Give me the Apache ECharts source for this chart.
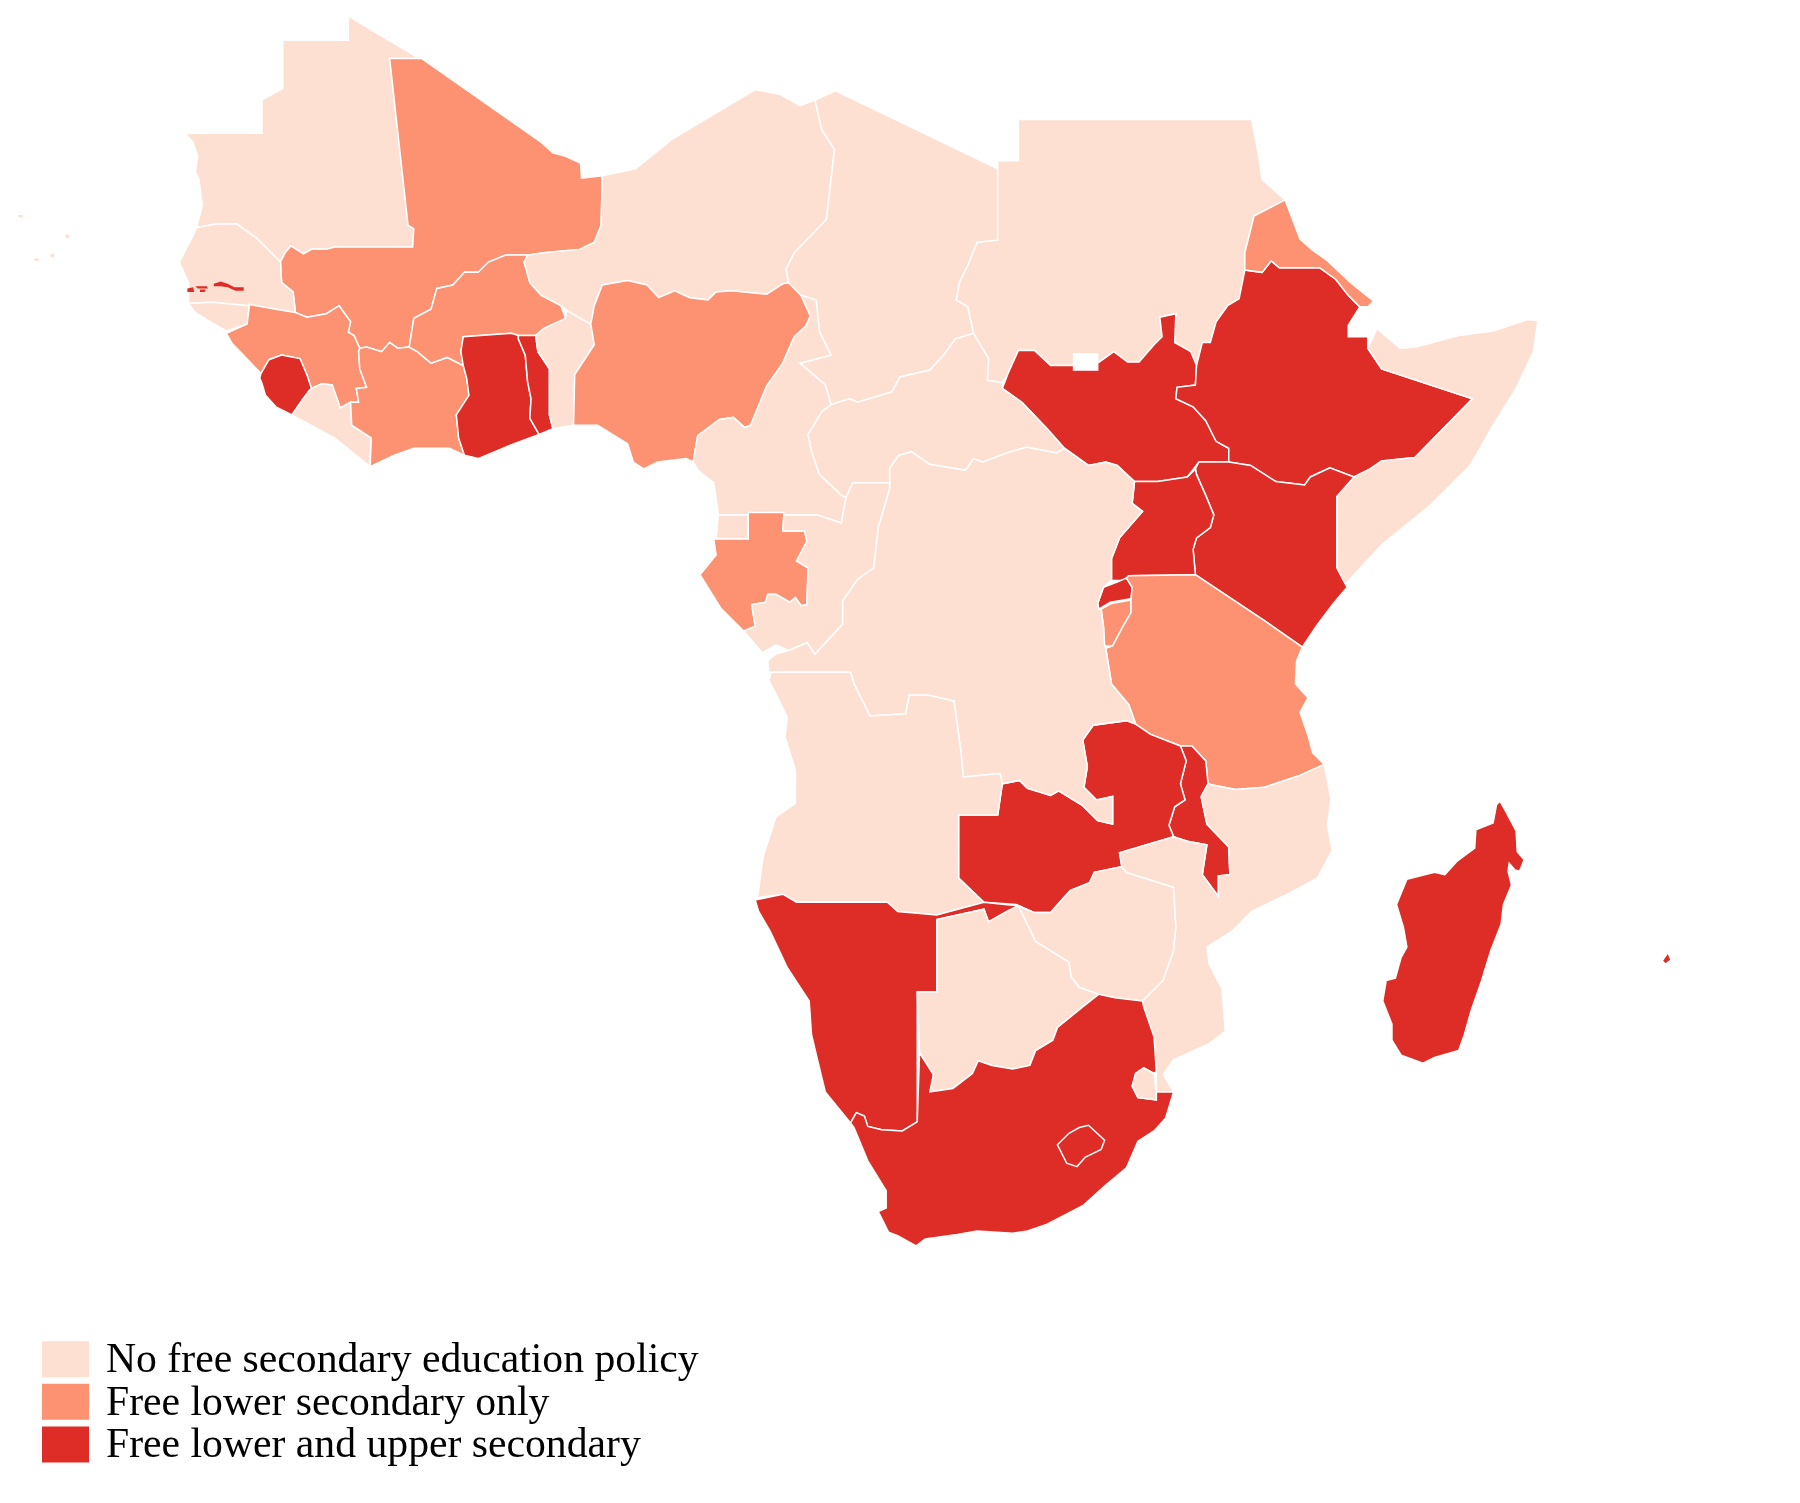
<!DOCTYPE html>
<html lang="en">
<head>
    <meta charset="UTF-8">
    <title>Free secondary education policy in Africa</title>
    <script src="https://cdn.jsdelivr.net/npm/echarts@6/dist/echarts.min.js"></script>
    <style>html,body{margin:0;padding:0;background:#fff}</style>
</head>
<body>
    <div id="main" style="width:1800px;height:1503px;"></div>
    <script type="text/javascript">
        // legend classes
        var policyLabels = ['No free secondary education policy', 'Free lower secondary only', 'Free lower and upper secondary'];
        var policyColors = ['#fee0d2', '#fc9272', '#de2d26'];

        // policy class per country, 0 / 1 / 2
        var noPolicy = ['Mauritania', 'Senegal', 'Guinea-Bissau', 'Liberia', 'Benin', 'Niger', 'Chad', 'Sudan', 'Somalia', 'DR Congo', 'CAR', 'Cameroon', 'Eq. Guinea', 'Congo', 'Angola', 'Botswana', 'Zimbabwe', 'Mozambique', 'Eswatini', 'Cape Verde'];
        var lowerOnly = ['Mali', 'Guinea', "Cote d'Ivoire", 'Burkina Faso', 'Nigeria', 'Eritrea', 'Burundi', 'Tanzania', 'Gabon'];
        var lowerUpper = ['Gambia', 'Sierra Leone', 'Ghana', 'Togo', 'South Sudan', 'Ethiopia', 'Kenya', 'Uganda', 'Rwanda', 'Malawi', 'Zambia', 'Namibia', 'South Africa', 'Lesotho', 'Madagascar', 'Mauritius'];

        // country outlines
        var mauritania = [[303,14],[365,51],[339,51],[355,196],[360,199],[359,215],[291,215],[284,217],[271,217],[264,221],[253,214],[248,220],[244,228],[236,220],[223,207],[206,195],[188,195],[171,198],[176,179],[173,156],[170,149],[172,136],[168,124],[161,116],[228,116],[228,87],[246,77],[246,35],[303,35]];
        var mali = [[339,51],[367,51],[471,124],[481,133],[492,136],[505,142],[506,155],[524,153],[523,196],[517,211],[504,217],[473,220],[459,222],[440,222],[425,228],[416,237],[404,237],[394,248],[380,251],[375,269],[360,277],[356,302],[346,303],[339,298],[332,306],[319,302],[313,303],[308,292],[303,289],[305,280],[295,266],[284,273],[267,276],[257,272],[255,254],[245,246],[244,228],[248,220],[253,214],[264,221],[271,217],[284,217],[291,215],[359,215],[360,199],[355,196]];
        var senegal = [[171,198],[188,195],[206,195],[223,207],[236,220],[244,228],[245,246],[255,254],[257,272],[240,269],[216,266],[185,263],[164,264],[164,246],[156,228],[168,205]];
        var gambia = [[[163,251],[168,250],[169,254],[163,254]],[[170,249],[180,249],[181,251],[172,251]],[[174,252],[179,252],[178,254],[174,254]],[[186,247],[192,245],[198,247],[204,250],[212,250],[212,253],[205,253],[198,250],[192,249],[186,249]]];
        var capeVerde = [[[16,187],[20,187],[20,189],[16,189]],[[57,204],[60,204],[60,207],[57,207]],[[30,225],[34,225],[34,227],[30,227]],[[44,221],[47,221],[47,224],[44,224]]];
        var guineaBissau = [[164,264],[185,263],[216,266],[217,265],[215,282],[197,288],[188,283],[170,272]];
        var guinea = [[217,265],[240,269],[257,272],[267,276],[284,273],[295,266],[305,280],[303,289],[308,292],[313,303],[312,306],[313,321],[319,337],[310,338],[312,350],[305,350],[296,355],[289,335],[280,334],[271,338],[267,326],[261,312],[245,309],[234,313],[227,325],[209,306],[202,299],[197,290],[215,282]];
        var sierraLeone = [[227,325],[234,313],[245,309],[261,312],[267,326],[271,338],[269,340],[263,348],[254,361],[240,354],[231,344],[228,334],[226,329]];
        var liberia = [[254,361],[263,348],[269,340],[271,338],[280,334],[289,335],[296,355],[305,350],[306,370],[323,381],[322,406],[291,381]];
        var coteDivoire = [[313,303],[319,302],[332,306],[339,298],[346,303],[356,302],[363,306],[375,316],[389,311],[403,318],[406,329],[408,344],[397,361],[399,381],[404,396],[391,390],[360,390],[343,396],[322,406],[323,381],[306,370],[305,350],[312,350],[310,338],[319,337],[313,321],[312,306]];
        var burkina = [[356,302],[360,277],[375,269],[380,251],[394,248],[404,237],[416,237],[425,228],[440,222],[459,222],[456,228],[461,246],[471,257],[488,266],[492,277],[473,286],[466,292],[451,292],[445,290],[403,293],[401,306],[403,318],[389,311],[375,316],[363,306]];
        var ghana = [[403,293],[445,290],[451,292],[451,295],[457,309],[459,332],[462,347],[461,364],[469,378],[445,387],[416,399],[404,396],[399,381],[397,361],[408,344],[406,329],[403,318],[401,306]];
        var togo = [[451,292],[466,292],[468,306],[478,321],[478,361],[481,373],[469,378],[461,364],[462,347],[459,332],[457,309],[451,295]];
        var benin = [[466,292],[473,286],[492,277],[493,270],[514,282],[517,300],[500,326],[499,370],[481,373],[478,361],[478,321],[468,306]];
        var niger = [[524,153],[553,147],[585,121],[657,78],[678,82],[696,92],[709,87],[715,113],[726,130],[719,191],[691,220],[684,234],[686,246],[681,247],[667,256],[636,253],[623,254],[616,261],[600,259],[587,253],[573,259],[563,248],[546,244],[524,248],[517,266],[514,282],[493,270],[488,266],[471,257],[461,246],[456,228],[459,222],[473,220],[504,217],[517,211],[523,196]];
        var nigeria = [[524,248],[546,244],[563,248],[573,259],[587,253],[600,259],[616,261],[623,254],[636,253],[667,256],[681,247],[686,246],[697,257],[705,275],[701,284],[691,293],[681,316],[667,336],[653,370],[648,372],[638,363],[626,365],[607,379],[603,402],[597,399],[572,402],[560,408],[551,402],[546,386],[520,370],[499,370],[500,326],[517,300],[514,282],[517,266]];
        var chad = [[709,87],[727,79],[868,147],[868,209],[850,211],[842,231],[835,245],[832,261],[842,267],[847,290],[831,295],[821,309],[809,322],[783,328],[776,341],[746,350],[739,347],[723,352],[718,335],[696,316],[723,309],[713,289],[710,261],[697,257],[686,246],[684,234],[691,220],[719,191],[726,130],[715,113]];
        var sudan = [[868,147],[868,140],[886,140],[886,104],[1089,104],[1095,136],[1098,156],[1118,174],[1091,188],[1083,220],[1083,235],[1078,260],[1068,266],[1058,280],[1053,298],[1046,298],[1041,318],[1036,306],[1022,298],[1023,273],[1009,276],[1011,293],[1004,300],[991,315],[981,315],[969,306],[955,316],[955,308],[934,308],[934,318],[914,318],[900,305],[886,305],[877,325],[872,333],[859,331],[860,312],[847,290],[842,267],[832,261],[835,245],[842,231],[850,211],[868,209]];
        var southSudan = [[872,338],[877,325],[886,305],[900,305],[914,318],[934,318],[934,322],[955,322],[955,316],[969,306],[981,315],[991,315],[1004,300],[1011,293],[1009,276],[1023,273],[1022,298],[1036,306],[1041,318],[1040,335],[1024,337],[1023,347],[1038,354],[1049,366],[1058,384],[1069,390],[1069,402],[1043,402],[1033,415],[1007,419],[987,419],[972,405],[962,402],[947,405],[926,390],[911,373],[889,350]];
        var ethiopia = [[1083,235],[1098,237],[1106,227],[1113,233],[1148,233],[1162,243],[1173,257],[1183,267],[1173,283],[1173,293],[1190,293],[1190,303],[1202,321],[1281,347],[1231,398],[1202,401],[1192,408],[1178,415],[1157,407],[1140,415],[1135,422],[1110,419],[1088,405],[1069,402],[1069,390],[1058,384],[1049,366],[1038,354],[1023,347],[1024,337],[1040,335],[1041,318],[1046,298],[1053,298],[1058,280],[1068,266],[1078,260]];
        var eritrea = [[1118,174],[1131,208],[1141,217],[1155,227],[1175,246],[1195,262],[1190,267],[1183,267],[1173,257],[1162,243],[1148,233],[1113,233],[1106,227],[1098,237],[1083,235],[1083,220],[1091,188]];
        var somalia = [[1198,286],[1218,303],[1232,302],[1269,292],[1299,288],[1329,278],[1338,279],[1334,306],[1319,338],[1299,370],[1279,405],[1245,439],[1202,474],[1168,511],[1163,494],[1163,432],[1178,415],[1192,408],[1202,401],[1231,398],[1281,347],[1202,321],[1190,303]];
        var kenya = [[1043,402],[1069,402],[1088,405],[1110,419],[1135,422],[1140,415],[1157,407],[1178,415],[1163,432],[1163,494],[1172,511],[1160,525],[1145,545],[1133,563],[1100,540],[1040,500],[1038,478],[1041,468],[1053,459],[1056,448],[1049,431],[1041,413],[1040,408]];
        var uganda = [[987,419],[1007,419],[1033,415],[1040,408],[1041,413],[1049,431],[1056,448],[1053,459],[1041,468],[1038,478],[1040,500],[982,501],[978,505],[967,505],[967,486],[974,468],[994,445],[985,438]];
        var rwanda = [[980,503],[985,511],[984,521],[966,524],[956,530],[955,525],[960,511],[973,506]];
        var burundi = [[958,530],[967,525],[984,522],[984,533],[977,545],[968,562],[961,562],[960,545]];
        var tanzania = [[982,501],[1040,500],[1100,540],[1133,563],[1128,575],[1127,595],[1138,607],[1131,620],[1138,640],[1142,655],[1152,665],[1130,675],[1100,685],[1075,687],[1055,683],[1051,682],[1049,662],[1037,649],[1027,649],[1001,639],[988,630],[982,613],[967,595],[962,564],[968,562],[977,545],[984,533],[984,522],[985,511],[980,503]];
        var malawi = [[1027,649],[1037,649],[1049,662],[1051,682],[1045,693],[1050,717],[1069,737],[1070,761],[1060,762],[1060,780],[1046,761],[1050,735],[1033,732],[1021,728],[1017,718],[1022,702],[1031,696],[1027,682],[1032,662]];
        var zambia = [[988,630],[980,627],[951,631],[942,644],[946,667],[943,685],[954,696],[968,693],[968,717],[955,714],[942,701],[921,688],[914,692],[894,686],[887,679],[872,682],[868,709],[834,709],[834,764],[856,785],[884,787],[900,794],[914,794],[931,775],[948,768],[952,759],[976,754],[974,742],[1021,728],[1017,718],[1022,702],[1031,696],[1027,682],[1032,662],[1027,649],[1001,639]];
        var drCongo = [[671,585],[740,585],[743,595],[757,623],[788,621],[791,605],[808,605],[830,610],[836,654],[838,676],[870,673],[872,682],[887,679],[894,686],[914,692],[921,688],[942,701],[955,714],[968,717],[968,693],[954,696],[943,685],[946,667],[942,644],[951,631],[980,627],[988,630],[982,613],[967,595],[962,564],[961,562],[960,545],[958,530],[956,530],[955,525],[960,511],[967,505],[967,486],[974,468],[994,445],[985,438],[987,419],[972,405],[962,402],[947,405],[926,390],[919,394],[893,389],[876,394],[855,402],[847,399],[840,409],[809,404],[793,393],[782,396],[774,407],[774,425],[764,459],[760,494],[746,504],[733,523],[733,543],[709,569],[702,559],[686,566],[675,569],[668,575],[669,585]];
        var car = [[723,352],[739,347],[746,350],[776,341],[783,328],[809,322],[821,309],[831,295],[847,290],[860,312],[859,331],[872,333],[872,338],[889,350],[911,373],[926,390],[919,394],[893,389],[876,394],[855,402],[847,399],[840,409],[809,404],[793,393],[782,396],[774,407],[774,420],[756,420],[742,420],[736,433],[732,431],[713,413],[706,393],[703,378],[715,358]];
        var cameroon = [[723,352],[715,358],[703,378],[706,393],[713,413],[732,431],[736,433],[732,455],[711,448],[651,448],[625,448],[621,420],[608,410],[603,402],[607,379],[626,365],[638,363],[648,372],[653,370],[667,336],[681,316],[691,293],[701,284],[705,275],[697,257],[710,261],[713,289],[723,309],[696,316],[718,335]];
        var eqGuinea = [[625,448],[651,448],[651,469],[623,469]];
        var gabon = [[651,446],[682,446],[681,462],[700,462],[702,471],[693,488],[703,494],[702,526],[697,527],[692,520],[687,524],[675,517],[668,517],[666,524],[654,526],[657,545],[647,549],[627,529],[609,500],[623,483],[621,469],[651,469]];
        var congo = [[742,420],[774,420],[774,425],[764,459],[760,494],[746,504],[733,523],[733,543],[709,569],[702,559],[686,566],[675,561],[663,568],[647,549],[657,545],[654,526],[666,524],[668,517],[675,517],[687,524],[692,520],[697,527],[702,526],[703,494],[693,488],[702,471],[700,462],[681,462],[682,448],[711,448],[732,455],[736,433]];
        var angola = [[669,592],[685,624],[683,641],[692,670],[692,699],[675,711],[664,745],[659,781],[681,778],[693,785],[772,785],[781,793],[815,796],[856,785],[834,764],[834,709],[868,709],[872,682],[870,673],[838,676],[836,654],[830,610],[808,605],[791,605],[788,621],[757,623],[743,595],[740,585],[671,585]];
        var namibia = [[657,783],[681,778],[693,785],[772,785],[781,793],[815,796],[856,785],[874,787],[886,788],[876,793],[860,802],[856,791],[815,800],[815,863],[798,863],[798,976],[785,984],[767,983],[755,980],[752,971],[745,968],[740,977],[718,950],[711,921],[706,900],[704,871],[685,842],[670,810],[660,793]];
        var botswana = [[815,800],[856,791],[860,802],[876,793],[886,788],[901,819],[922,832],[930,837],[932,850],[939,859],[956,865],[942,876],[920,894],[916,905],[901,914],[896,927],[881,930],[863,927],[851,923],[846,934],[829,947],[809,950],[812,935],[800,916],[798,863],[815,863]];
        var zimbabwe = [[886,788],[900,794],[914,794],[931,775],[948,768],[952,759],[976,754],[980,759],[1021,772],[1023,807],[1021,827],[1012,853],[994,871],[970,868],[956,865],[939,859],[932,850],[930,837],[922,832],[901,819]];
        var mozambique = [[1152,665],[1130,675],[1100,685],[1075,687],[1055,683],[1051,682],[1045,693],[1050,717],[1069,737],[1070,761],[1060,762],[1060,780],[1046,761],[1050,735],[1033,732],[1021,728],[974,742],[976,754],[980,759],[1021,772],[1023,807],[1021,827],[1012,853],[994,871],[995,876],[1004,902],[1006,932],[1006,950],[1021,950],[1012,935],[1021,922],[1052,908],[1066,897],[1063,860],[1052,839],[1050,824],[1072,810],[1089,793],[1120,778],[1146,764],[1159,740],[1155,718],[1158,695]];
        var southAfrica = [[956,865],[970,868],[994,871],[995,876],[1004,902],[1006,932],[1004,934],[995,929],[988,934],[985,945],[990,955],[1006,957],[1006,950],[1021,950],[1014,973],[1004,984],[990,993],[980,1016],[961,1032],[942,1049],[911,1065],[894,1071],[881,1073],[850,1071],[833,1074],[805,1078],[797,1084],[781,1075],[773,1072],[764,1054],[771,1051],[771,1036],[755,1010],[743,981],[740,977],[745,968],[752,971],[755,980],[767,983],[785,984],[798,976],[800,916],[812,935],[809,950],[829,947],[846,934],[851,923],[863,927],[881,930],[896,927],[901,914],[916,905],[920,894],[942,876]];
        var eswatini = [[1004,934],[1006,950],[1006,957],[990,955],[985,945],[988,934],[995,929]];
        var lesotho = [[920,996],[930,986],[939,981],[947,979],[961,992],[958,1000],[944,1007],[937,1015],[928,1012]];
        var madagascar = [[1305,697],[1310,706],[1319,723],[1320,741],[1326,748],[1322,758],[1318,757],[1313,751],[1312,758],[1315,770],[1308,787],[1306,804],[1297,827],[1289,853],[1280,879],[1274,900],[1269,914],[1248,920],[1238,925],[1219,918],[1211,905],[1211,891],[1203,871],[1206,853],[1214,851],[1219,833],[1224,824],[1221,807],[1215,787],[1224,765],[1248,759],[1257,761],[1268,749],[1283,738],[1284,722],[1299,716],[1302,700]];
        var mauritius = [[1447,836],[1451,830],[1453,835],[1449,838]];

        // drawing order matters: Lesotho sits on top of South Africa
        var outlines = [
            ['Mauritania', mauritania], ['Mali', mali], ['Senegal', senegal], ['Guinea-Bissau', guineaBissau], ['Guinea', guinea],
            ['Sierra Leone', sierraLeone], ['Liberia', liberia], ["Cote d'Ivoire", coteDivoire], ['Burkina Faso', burkina], ['Ghana', ghana],
            ['Togo', togo], ['Benin', benin], ['Niger', niger], ['Nigeria', nigeria], ['Chad', chad], ['Sudan', sudan], ['South Sudan', southSudan],
            ['Ethiopia', ethiopia], ['Eritrea', eritrea], ['Somalia', somalia], ['Kenya', kenya], ['Uganda', uganda], ['Rwanda', rwanda], ['Burundi', burundi],
            ['Tanzania', tanzania], ['Malawi', malawi], ['Zambia', zambia], ['DR Congo', drCongo], ['CAR', car], ['Cameroon', cameroon], ['Eq. Guinea', eqGuinea],
            ['Gabon', gabon], ['Congo', congo], ['Angola', angola], ['Namibia', namibia], ['Botswana', botswana], ['Zimbabwe', zimbabwe], ['Mozambique', mozambique],
            ['South Africa', southAfrica], ['Eswatini', eswatini], ['Lesotho', lesotho], ['Madagascar', madagascar], ['Mauritius', mauritius]
        ];
        var islandGroups = [['Gambia', gambia], ['Cape Verde', capeVerde]];

        var features = outlines.map(function (item) {
            return {
                type: 'Feature',
                properties: { name: item[0] },
                geometry: { type: 'Polygon', coordinates: [item[1]] }
            };
        });
        islandGroups.forEach(function (item) {
            features.push({
                type: 'Feature',
                properties: { name: item[0] },
                geometry: { type: 'MultiPolygon', coordinates: item[1].map(function (ring) { return [ring]; }) }
            });
        });
        echarts.registerMap('africa', { type: 'FeatureCollection', features: features });

        function classData(names, level) {
            return names.map(function (name) {
                var item = { name: name, value: level };
                // too small to carry the white outline
                if (name === 'Gambia' || name === 'Mauritius' || name === 'Cape Verde') {
                    item.itemStyle = { borderWidth: 0 };
                }
                return item;
            });
        }

        var myChart = echarts.init(document.getElementById('main'));
        var option = {
            animation: false,
            backgroundColor: '#fff',
            visualMap: {
                type: 'piecewise',
                seriesIndex: 0,
                orient: 'vertical',
                inverse: true,
                left: 42,
                top: 1340,
                itemWidth: 47,
                itemHeight: 39.5,
                itemGap: 0.6,
                // swatch stops short of the item box so the label sits a bit lower than its centre
                itemSymbol: 'path://M0 0L47 0L47 36L0 36ZM0 39.5L0.01 39.5',
                align: 'left',
                textGap: 17,
                selectedMode: false,
                hoverLink: false,
                padding: 0,
                textStyle: { fontFamily: 'Liberation Serif', fontSize: 41.7, color: '#000' },
                pieces: policyLabels.map(function (label, i) {
                    return { value: i, label: label, color: policyColors[i] };
                })
            },
            series: [{
                type: 'map',
                map: 'africa',
                silent: true,
                roam: false,
                // outlines are in picture units, y pointing down
                projection: {
                    project: function (p) { return p; },
                    unproject: function (p) { return p; }
                },
                boundingCoords: [[0, 0], [1566, 1307.7]],
                layoutCenter: ['50%', '50%'],
                layoutSize: 1800,
                label: { show: false },
                emphasis: { disabled: true },
                select: { disabled: true },
                itemStyle: { borderColor: '#fff', borderWidth: 1.5 },
                data: classData(noPolicy, 0).concat(classData(lowerOnly, 1), classData(lowerUpper, 2))
            }]
        };
        myChart.setOption(option);
    </script>
</body>
</html>
